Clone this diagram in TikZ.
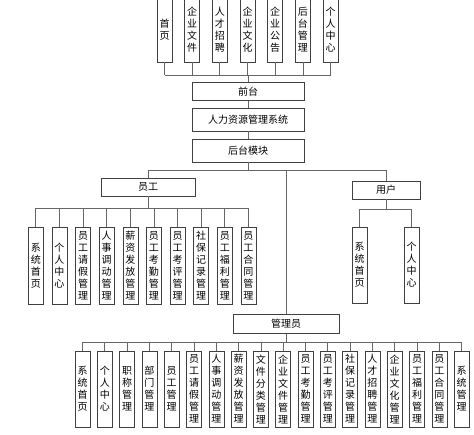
\documentclass[tikz,border=0pt]{standalone}
\usepackage{fontspec}
\newfontfamily\cjk{Noto Sans CJK SC}
\begin{document}
\begin{tikzpicture}[x=1pt,y=-1pt,
  box/.style={draw=black!75, line width=0.6pt, inner sep=0pt, text=black, font=\cjk\fontsize{10}{12}\selectfont},
  hbox/.style={box, minimum height=#1},
  vbox/.style={box, minimum width=15pt, minimum height=#1, align=center},
  conn/.style={draw=black!60, line width=0.7pt}]
\useasboundingbox (0,0) rectangle (474,434);
\fill[white] (0,0) rectangle (474,434);
\clip (0,0) rectangle (474,434);

% top row
\foreach \t [count=\i] in {{首\\页},{企\\业\\文\\件},{人\\才\\招\\聘},{企\\业\\文\\化},{企\\业\\公\\告},{后\\台\\管\\理},{个\\人\\中\\心}}
  \node[vbox=64pt] (t\i) at ({164.5+27.67*(\i-1)},30) {\t};

\node[hbox=18.7pt, minimum width=112pt] (qt) at (248,91.3) {前台};
\node[hbox=23pt, minimum width=112pt] (sys) at (248,119.6) {人力资源管理系统};
\node[hbox=23pt, minimum width=112pt] (ht) at (248,150.5) {后台模块};
\node[hbox=18pt, minimum width=94pt] (yg) at (148,187) {员工};
\node[hbox=18pt, minimum width=68pt] (yh) at (386,190) {用户};
\node[hbox=18.5pt, minimum width=106pt] (gly) at (286,324) {管理员};

% employee children
\foreach \t [count=\i] in {{系\\统\\首\\页},{个\\人\\中\\心},{员\\工\\请\\假\\管\\理},{人\\事\\调\\动\\管\\理},{薪\\资\\发\\放\\管\\理},{员\\工\\考\\勤\\管\\理},{员\\工\\考\\评\\管\\理},{社\\保\\记\\录\\管\\理},{员\\工\\福\\利\\管\\理},{员\\工\\合\\同\\管\\理}}
  \node[vbox=77pt] (e\i) at ({35.8+23.63*(\i-1)},265.5) {\t};

% user children
\node[vbox=76pt] (u1) at (359.7,265) {系\\统\\首\\页};
\node[vbox=76pt] (u2) at (411.7,265) {个\\人\\中\\心};

% admin children
\foreach \t [count=\i] in {{系\\统\\首\\页},{个\\人\\中\\心},{职\\称\\管\\理},{部\\门\\管\\理},{员\\工\\管\\理},{员\\工\\请\\假\\管\\理},{人\\事\\调\\动\\管\\理},{薪\\资\\发\\放\\管\\理},{文\\件\\分\\类\\管\\理},{企\\业\\文\\件\\管\\理},{员\\工\\考\\勤\\管\\理},{员\\工\\考\\评\\管\\理},{社\\保\\记\\录\\管\\理},{人\\才\\招\\聘\\管\\理},{企\\业\\文\\化\\管\\理},{员\\工\\福\\利\\管\\理},{员\\工\\合\\同\\管\\理},{系\\统\\管\\理}}
  \node[vbox=76pt] (m\i) at ({82.5+22.3*(\i-1)},389) {\t};

% connectors
\coordinate (b0) at (0,75);
\coordinate (b1) at (0,170);
\coordinate (b2) at (0,208);
\coordinate (b3) at (0,209);
\coordinate (b4) at (0,342);

\draw[conn] (t1.south |- b0) -- (t7.south |- b0);
\foreach \i in {1,...,7} \draw[conn] (t\i.south) -- (t\i.south |- b0);
\draw[conn] (qt.north |- b0) -- (qt.north);
\draw[conn] (qt.south) -- (sys.north);
\draw[conn] (sys.south) -- (ht.north);
\draw[conn] (ht.south) -- (ht.south |- b1);
\draw[conn] (yg.north) |- (yh.north |- b1) -- (yh.north);
\draw[conn] (gly.north |- b1) -- (gly.north);

\draw[conn] (yg.south) -- (yg.south |- b2);
\draw[conn] (e1.north |- b2) -- (e10.north |- b2);
\foreach \i in {1,...,10} \draw[conn] (e\i.north) -- (e\i.north |- b2);

\draw[conn] (yh.south) -- (yh.south |- b3);
\draw[conn] (u1.north |- b3) -- (u2.north |- b3);
\draw[conn] (u1.north) -- (u1.north |- b3);
\draw[conn] (u2.north) -- (u2.north |- b3);

\draw[conn] (gly.south) -- (gly.south |- b4);
\draw[conn] (m1.north |- b4) -- (m18.north |- b4);
\foreach \i in {1,...,18} \draw[conn] (m\i.north) -- (m\i.north |- b4);
\end{tikzpicture}
\end{document}
